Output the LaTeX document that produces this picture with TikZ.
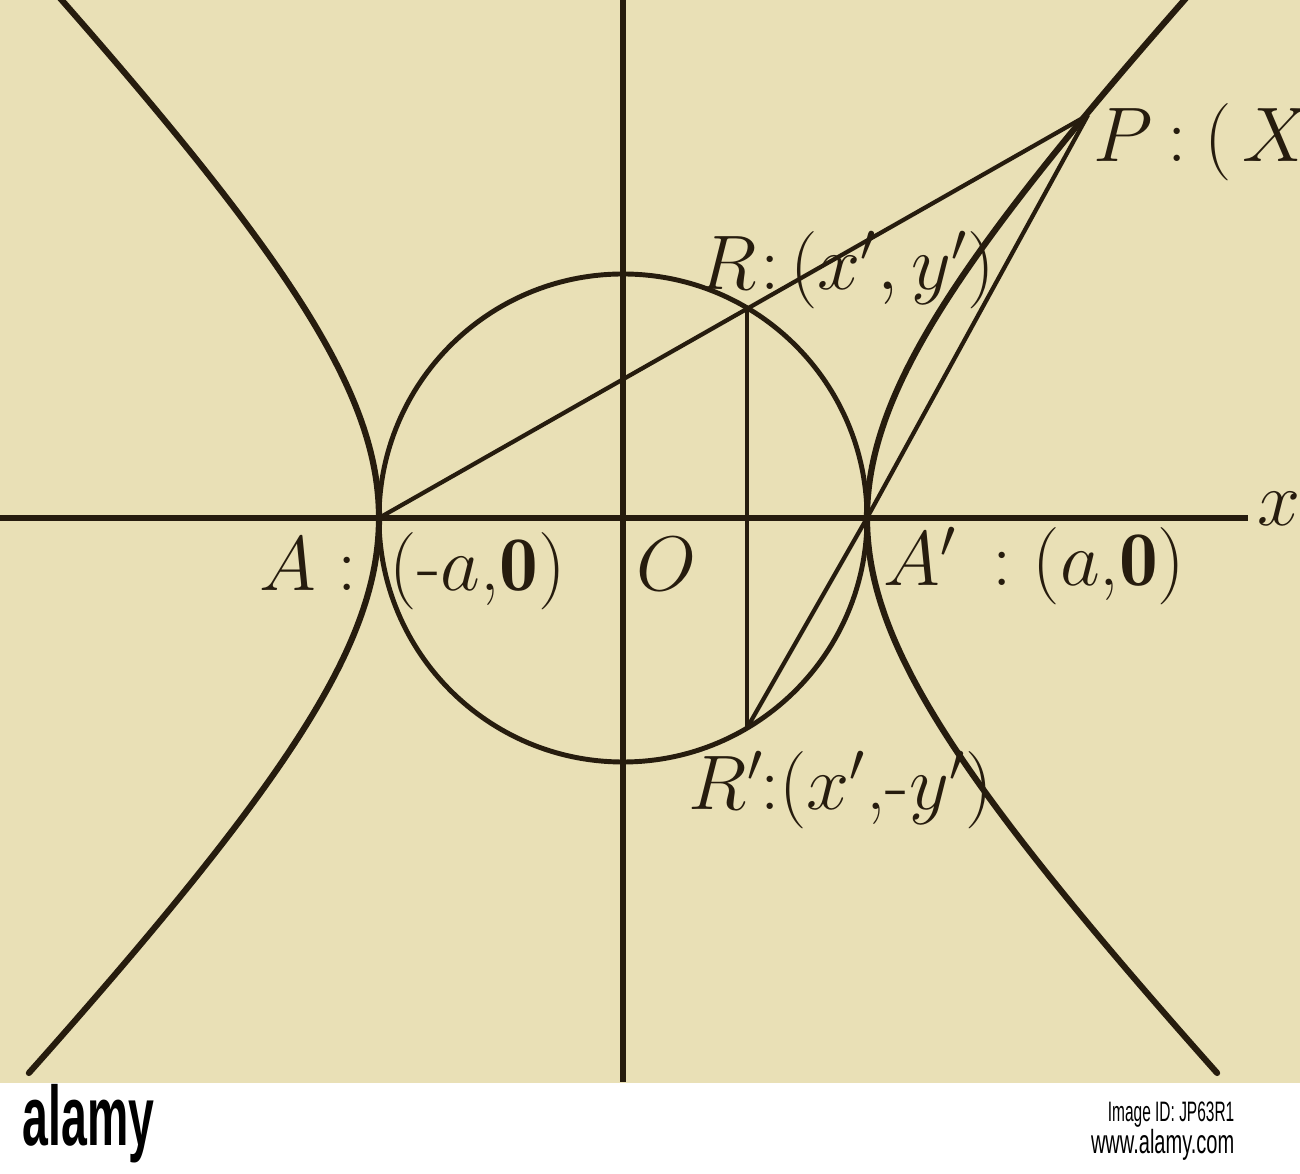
\RequirePackage{fix-cm}
\documentclass[tikz,border=0pt]{standalone}
\usepackage{fontspec}
\newfontfamily\wmfont{Liberation Sans}
\definecolor{paper}{RGB}{233,224,182}
\definecolor{ink}{RGB}{38,28,14}
\tikzset{
  axis/.style={draw=ink, line width=1.5pt},
  hyp/.style={draw=ink, line width=1.75pt, line cap=round},
  circ/.style={draw=ink, line width=1.4pt},
  chord/.style={draw=ink, line width=1.2pt},
  lab/.style={text=ink, inner sep=0pt, anchor=base west, font=\fontsize{22}{26}\selectfont},
  wm/.style={text=black, inner sep=0pt}
}
\begin{document}
\begin{tikzpicture}[x=0.01cm, y=-0.01cm]
\useasboundingbox (0,0) rectangle (1300,1174);
\fill[paper] (0,0) rectangle (1300,1083);
\fill[white] (0,1083) rectangle (1300,1174);
% key points
\coordinate (O) at (623,518);
\coordinate (A) at (379,518);
\coordinate (Ap) at (867,518);
\coordinate (P) at (1088,115);
\coordinate (R) at (747,308);
\coordinate (Rp) at (747,728);
\coordinate (xl) at (0,518);
\coordinate (xr) at (1248,518);
\coordinate (yt) at (623,0);
\coordinate (yb) at (623,1082);
\begin{scope}
\clip (0,0) rectangle (1300,1083);
% axes
\draw[axis] (xl) -- (xr);
\draw[axis] (yt) -- (yb);
% circle
\draw[circ] (O) circle[radius=244];
% hyperbola branches
\draw[hyp] plot[domain=-570:555, samples=120, smooth, variable=\t]
  ({623+244*sqrt(1+(\t/250)^2)}, {518+\t});
\draw[hyp] plot[domain=-570:555, samples=120, smooth, variable=\t]
  ({623-244*sqrt(1+(\t/250)^2)}, {518+\t});
% construction lines
\draw[chord] (A) -- (P);
\draw[chord] (Rp) -- (Ap) -- (P);
\draw[chord] (R) -- (Rp);
\end{scope}
% labels
\node[lab] (Plab) at (1093,162) {$P$\kern4pt:\kern5pt$(\kern3pt X$};
\node[lab] (Rlab) at (698,290) {$R$\kern1pt:\kern3pt$(x',y')$};
\node[lab] (Alab) at (259,591) {$A$\kern6pt:};
\node[lab] (Acoord) at (389,591) {(-$a$,$\mathbf{0}$)};
\node[lab] (Olab) at (636,591) {$O$};
\node[lab] (Aplab) at (883,586) {$A'$\kern10pt:\kern6pt$(a$,$\mathbf{0})$};
\node[lab] (Rplab) at (688,810) {$R'$\kern-1pt:$(x'$,-$y')$};
\node[lab] (xlab) at (1257,526) {$x$};
% watermark bar
\node[wm, anchor=base west] (logo) at (22,1146) {\scalebox{0.55}[1]{\wmfont\bfseries\fontsize{24}{24}\selectfont alamy}};
\node[wm, anchor=base east] (imgid) at (1235,1122) {\scalebox{0.55}[1]{\wmfont\fontsize{8}{8}\selectfont Image ID: JP63R1}};
\node[wm, anchor=base east] (www) at (1235,1153) {\scalebox{0.6}[1]{\wmfont\fontsize{9.5}{9.5}\selectfont www.alamy.com}};
\end{tikzpicture}
\end{document}
